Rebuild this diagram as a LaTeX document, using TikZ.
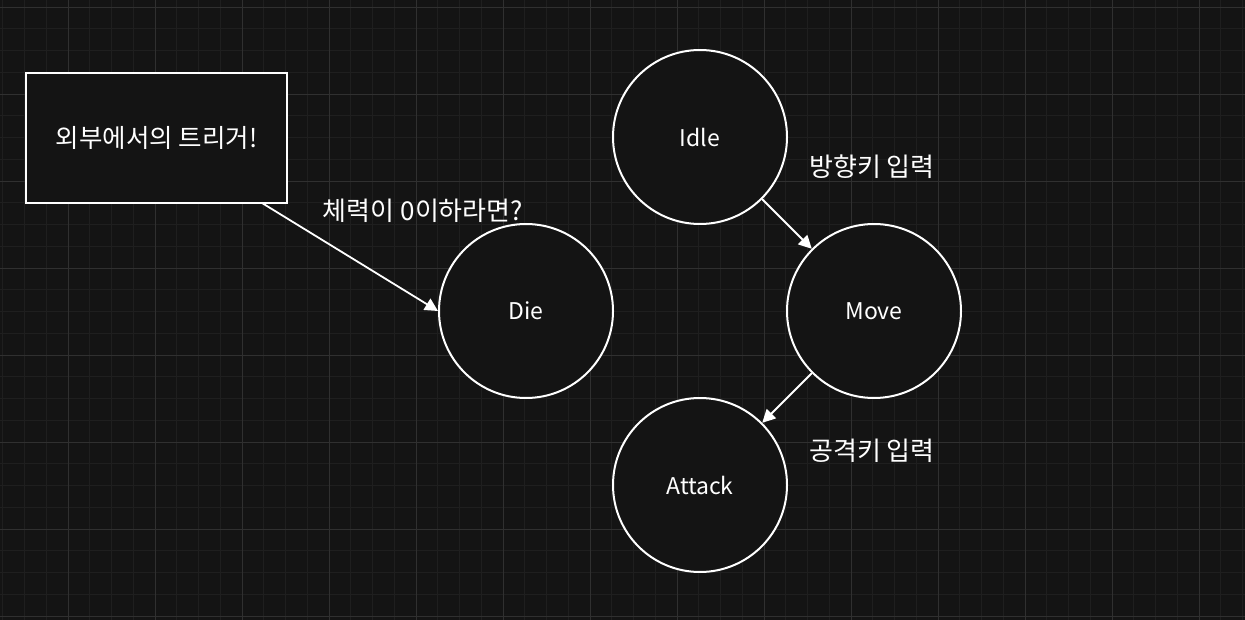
\documentclass[tikz,border=0pt]{standalone}
\usepackage{fontspec}
\setmainfont{Noto Sans CJK KR}
\usetikzlibrary{arrows.meta}
\definecolor{bg}{HTML}{141414}
\definecolor{minorg}{HTML}{1F1F1F}
\definecolor{majorg}{HTML}{303030}
\tikzset{
  state/.style={circle,draw=white,fill=bg,line width=2pt,minimum size=174pt,inner sep=0pt,text=white,font=\fontsize{23}{26}\selectfont},
  trig/.style={rectangle,draw=white,fill=bg,line width=2pt,minimum width=261pt,minimum height=130pt,text=white,font=\fontsize{25.5}{28}\selectfont},
  lbl/.style={text=white,font=\fontsize{26}{28}\selectfont},
  conn/.style={draw=white,line width=1.8pt,-{Stealth[length=13pt,width=13pt,inset=0pt]}}
}
\begin{document}
\begin{tikzpicture}[x=1pt,y=-1pt]
\fill[bg] (0,0) rectangle (1245,620);
\useasboundingbox (0,0) rectangle (1245,620);
\foreach \i in {-3,...,57} {\draw[minorg,line width=0.6pt] ({68+21.75*\i},0) -- ({68+21.75*\i},620);}
\foreach \i in {0,...,29} {\draw[minorg,line width=0.6pt] (0,{7+21.75*\i}) -- (1245,{7+21.75*\i});}
\foreach \i in {-1,...,14} {\draw[majorg,line width=0.6pt] ({68+87*\i},0) -- ({68+87*\i},620);}
\foreach \i in {0,...,7} {\draw[majorg,line width=0.6pt] (0,{7+87*\i}) -- (1245,{7+87*\i});}
\node[trig] (box) at (156.5,138) {외부에서의 트리거!};
\node[state] (die) at (526,311) {Die};
\node[state] (idle) at (700,137) {Idle};
\node[state] (move) at (874,311) {Move};
\node[state] (attack) at (700,485) {Attack};
\coordinate (bs) at (262,203);
\draw[conn] (bs) -- (die.west);
\draw[conn] (idle.-45) -- (move.135);
\draw[conn] (move.-135) -- (attack.45);
\node[lbl] (l1) at (423,211) {체력이 0이하라면?};
\node[lbl] (l2) at (872,167) {방향키 입력};
\node[lbl] (l3) at (872,451) {공격키 입력};
\end{tikzpicture}
\end{document}
